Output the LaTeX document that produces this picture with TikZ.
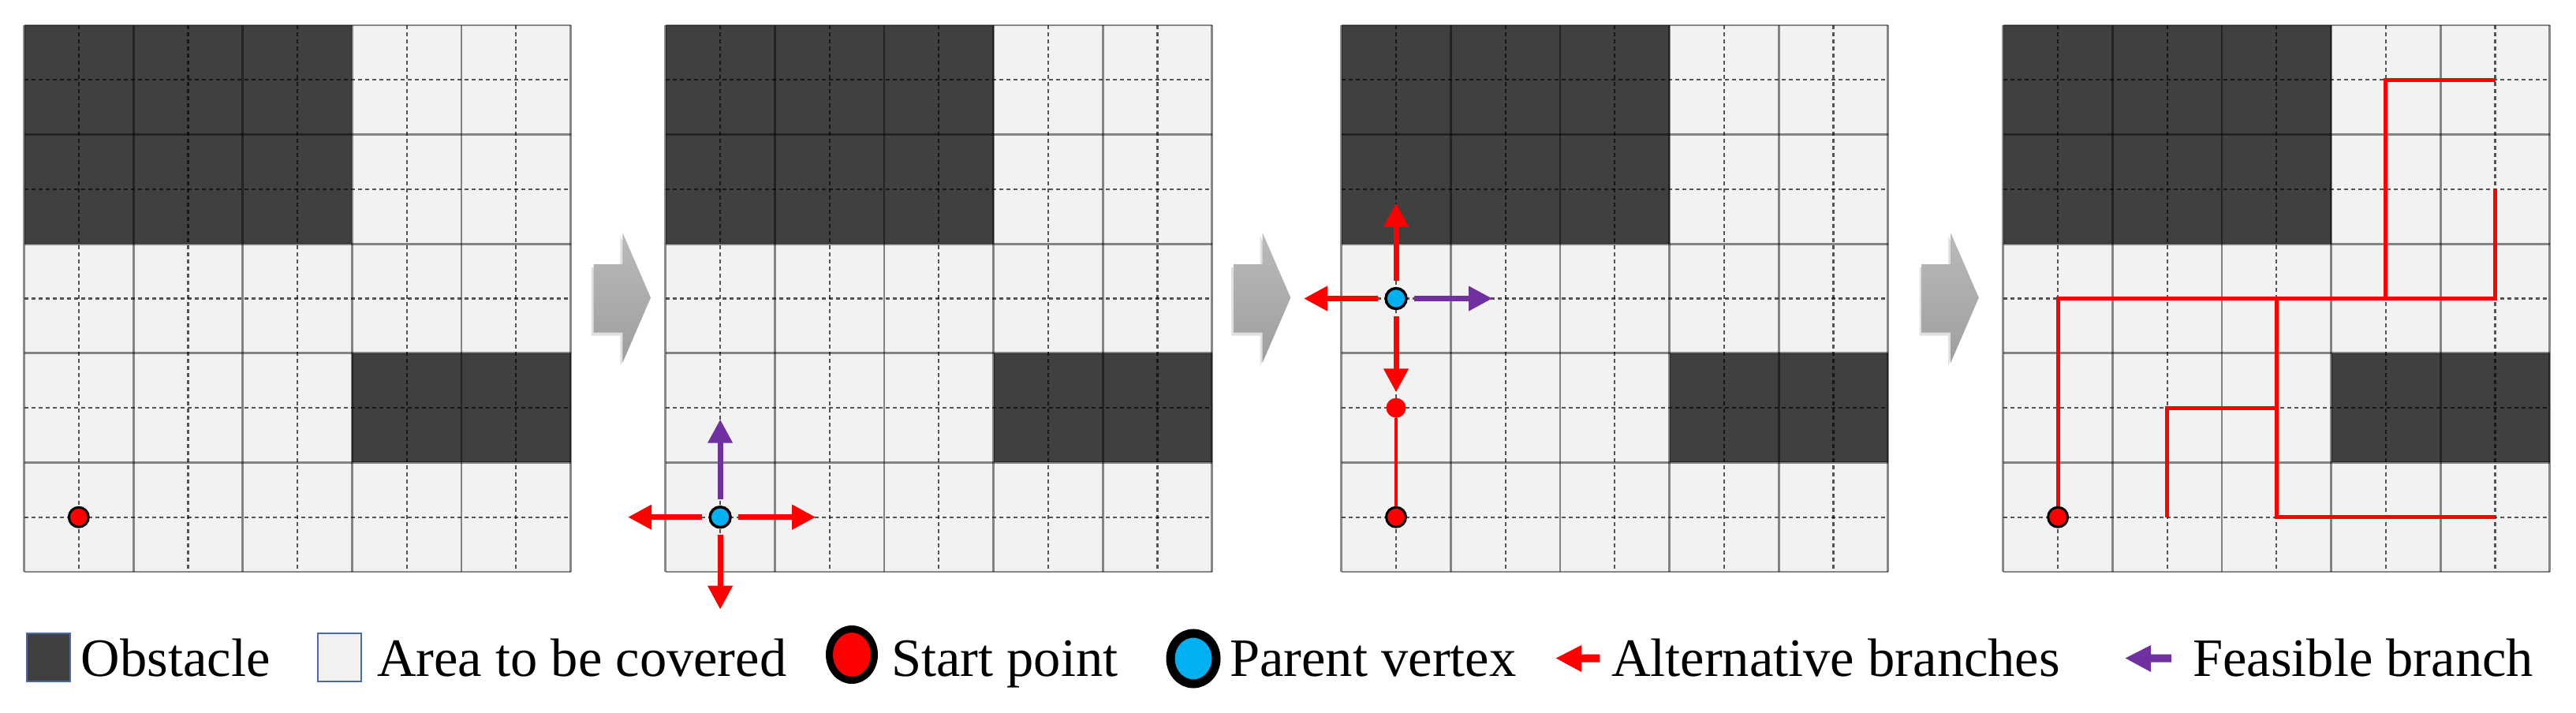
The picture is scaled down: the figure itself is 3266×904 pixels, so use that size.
\documentclass[tikz,border=0pt]{standalone}
\usepackage{fontspec}
\setmainfont{Liberation Serif}
\usetikzlibrary{arrows.meta,calc,shapes.geometric}
\definecolor{obst}{HTML}{404040}
\definecolor{freecell}{HTML}{F2F2F2}
\definecolor{vblue}{HTML}{00B0F0}
\definecolor{fpurple}{HTML}{7030A0}
\definecolor{legblue}{HTML}{4A6AAE}
\tikzset{
  fineline/.style={black, opacity=0.65, line width=2.2pt, dash pattern=on 5pt off 4pt},
  cellline/.style={black, opacity=0.45, line width=2.8pt},
  startdot/.style={circle, fill=red, draw=black, line width=3pt, minimum size=25pt, inner sep=0pt},
  parentdot/.style={circle, fill=vblue, draw=black, line width=3.5pt, minimum size=26pt, inner sep=0pt},
  middot/.style={circle, fill=red, minimum size=25pt, inner sep=0pt},
  altbranch/.style={red, line width=7pt, -{Triangle[length=30pt,width=30pt]}, shorten <=8pt},
  feasbranch/.style={fpurple, line width=7pt, -{Triangle[length=30pt,width=30pt]}, shorten <=8pt},
  route/.style={red, line width=5pt, line join=miter},
  legsq/.style={rectangle, draw=legblue, line width=2.5pt, minimum width=55pt, minimum height=61pt, inner sep=0pt},
  legtext/.style={anchor=base west, inner sep=0pt, font=\fontsize{68.5pt}{80pt}\selectfont},
  legring/.style={ellipse, draw=black, inner sep=0pt},
}
\newcommand\drawgridpanel[1]{%
  \fill[freecell] (#1,32) rectangle (#1+693,725);
  \fill[obst] (#1,32) rectangle (#1+415.8,309.2);
  \fill[obst] (#1+415.8,447.8) rectangle (#1+693,586.4);
  \foreach \k in {1,3,5,7,9} {
    \draw[fineline] (#1+69.3*\k,32) -- (#1+69.3*\k,725);
    \draw[fineline] (#1,32+69.3*\k) -- (#1+693,32+69.3*\k);
  }
  \foreach \k in {0,...,5} {
    \draw[cellline] (#1+138.6*\k,32) -- (#1+138.6*\k,725);
    \draw[cellline] (#1,32+138.6*\k) -- (#1+693,32+138.6*\k);
  }
}
\newcommand\grayblockarrow[1]{%
  \fill[black, opacity=0.12] (#1-3,339) -- (#1+33.6,339) -- (#1+33.6,299) -- (#1+69.3,381.5) -- (#1+33.6,464) -- (#1+33.6,425.7) -- (#1-3,425.7) -- cycle;
  \shade[top color=black!27, bottom color=black!38] (#1,335) -- (#1+36.6,335) -- (#1+36.6,295) -- (#1+72.3,377.5) -- (#1+36.6,460) -- (#1+36.6,421.7) -- (#1,421.7) -- cycle;
}
\begin{document}
\begin{tikzpicture}[x=1pt,y=-1pt]
\useasboundingbox (0,0) rectangle (3266,904);
\fill[white] (0,0) rectangle (3266,904);
\def\Xa{30.5}
\def\Xb{843.8}
\def\Xc{1700.7}
\def\Xd{2539.8}
% panels
\drawgridpanel{\Xa}
\drawgridpanel{\Xb}
\drawgridpanel{\Xc}
\drawgridpanel{\Xd}
% block arrows between panels
\grayblockarrow{752.7}
\grayblockarrow{1564}
\grayblockarrow{2436.5}

% panel 1
\node[startdot] (s1) at (\Xa+69.3,655.7) {};

% panel 2
\node[parentdot] (p2) at (\Xb+69.3,655.7) {};
\coordinate (p2l) at (\Xb+69.3-117,655.7);
\coordinate (p2r) at (\Xb+69.3+121,655.7);
\coordinate (p2d) at (\Xb+69.3,655.7+117);
\coordinate (p2u) at (\Xb+69.3,655.7-124);
\draw[altbranch] (p2) -- (p2l);
\draw[altbranch] (p2) -- (p2r);
\draw[altbranch] (p2) -- (p2d);
\draw[feasbranch] (p2) -- (p2u);

% panel 3
\node[startdot] (s3) at (\Xc+69.3,655.7) {};
\node[middot] (m3) at (\Xc+69.3,517.1) {};
\node[parentdot] (p3) at (\Xc+69.3,378.5) {};
\draw[red, line width=4.5pt] (s3) -- (m3);
\coordinate (p3l) at (\Xc+69.3-117,378.5);
\coordinate (p3r) at (\Xc+69.3+122,378.5);
\coordinate (p3u) at (\Xc+69.3,378.5-121);
\draw[altbranch] (p3) -- (p3l);
\draw[altbranch] (p3) -- (p3u);
\draw[altbranch, shorten >=7pt] (p3) -- (m3);
\draw[feasbranch] (p3) -- (p3r);

% panel 4
\node[startdot] (s4) at (\Xd+69.3,655.7) {};
\coordinate (qa) at (\Xd+69.3*1,32+69.3*5);
\coordinate (qb) at (\Xd+69.3*9,32+69.3*5);
\coordinate (qc) at (\Xd+69.3*9,32+69.3*3);
\coordinate (qd) at (\Xd+69.3*7,32+69.3*5);
\coordinate (qe) at (\Xd+69.3*7,32+69.3*1);
\coordinate (qf) at (\Xd+69.3*9,32+69.3*1);
\coordinate (qg) at (\Xd+69.3*5,32+69.3*5);
\coordinate (qh) at (\Xd+69.3*5,32+69.3*9);
\coordinate (qi) at (\Xd+69.3*9,32+69.3*9);
\coordinate (qj) at (\Xd+69.3*5,32+69.3*7);
\coordinate (qk) at (\Xd+69.3*3,32+69.3*7);
\coordinate (ql) at (\Xd+69.3*3,32+69.3*9);
\draw[route] (s4) -- (qa) -- (qb) -- (qc);
\draw[route] (qd) -- (qe) -- (qf);
\draw[route] (qg) -- (qh) -- (qi);
\draw[route] (qj) -- (qk) -- (ql);

% legend
\node[legsq, fill=obst] (lobst) at (61.5,833.5) {};
\node[legtext] (tobst) at (102.7,857) {Obstacle};
\node[legsq, fill=freecell] (larea) at (430.7,833.5) {};
\node[legtext] (tarea) at (478,857) {Area to be covered};
\node[legring, fill=red, line width=9pt, minimum width=57pt, minimum height=65pt] (lstart) at (1080,830) {};
\node[legtext] (tstart) at (1130,857) {Start point};
\node[legring, fill=vblue, line width=11pt, minimum width=58pt, minimum height=64pt] (lparent) at (1513,835) {};
\node[legtext] (tparent) at (1559,857) {Parent vertex};
\fill[red] (1972.7,834.5) -- (2005,818) -- (2005,829.5) -- (2028.3,829.5) -- (2028.3,839.5) -- (2005,839.5) -- (2005,852) -- cycle;
\node[legtext] (talt) at (2043,857) {Alternative branches};
\fill[fpurple] (2694.6,834.5) -- (2727,818) -- (2727,829.5) -- (2752.8,829.5) -- (2752.8,839.5) -- (2727,839.5) -- (2727,852) -- cycle;
\node[legtext] (tfeas) at (2780,857) {Feasible branch};
\end{tikzpicture}
\end{document}
